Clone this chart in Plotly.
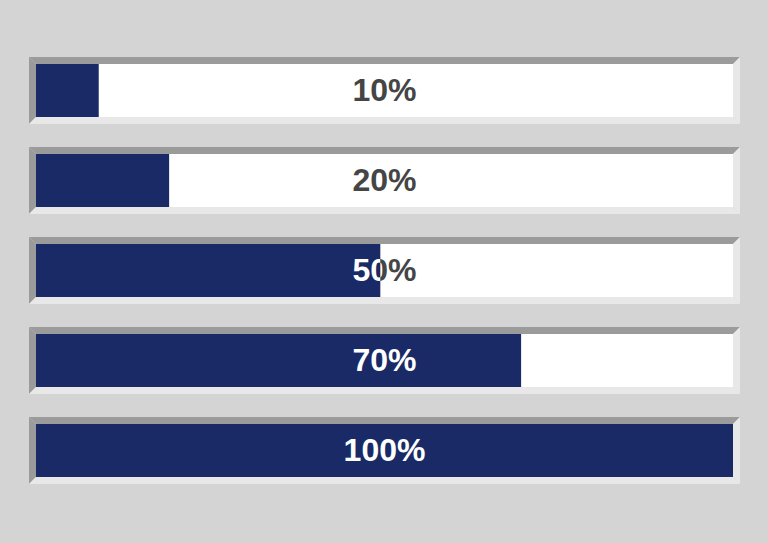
import plotly.graph_objects as go

# progress bars
percent_labels = [10, 20, 50, 70, 100]
fill_values = [9.0, 19.1, 49.4, 69.6, 100.0]
track_values = [100, 100, 100, 100, 100]

BG = "#d4d4d4"
BLUE = "#1a2a66"
DARK_EDGE = "#9b9b9b"
LIGHT_EDGE = "#e8e8e8"
TEXT_GRAY = "#454545"

W, H = 768, 543
FONT = dict(family="Liberation Sans, Arial, sans-serif", size=32, weight="bold")

# pixel layout -> axis ranges
x0_px, x100_px = 36, 733
px_per_x = (x100_px - x0_px) / 100.0
first_center_px, step_px = 90.5, 90.0
bar_h_px, bevel_px = 53, 7
text_drop_px = 2.5

x_range = [-x0_px / px_per_x, 100 + (W - x100_px) / px_per_x]
y_range = [len(percent_labels) - 1 + (H - first_center_px - step_px * (len(percent_labels) - 1)) / step_px,
           -first_center_px / step_px]

bar_width = bar_h_px / step_px
bx = bevel_px / px_per_x
by = bevel_px / step_px

rows = list(range(len(percent_labels)))


def to_frac(v):
    return (v - x_range[0]) / (x_range[1] - x_range[0])


fig = go.Figure()
fig.add_trace(go.Bar(
    x=track_values, y=rows, orientation="h", width=bar_width,
    marker=dict(color="white", line=dict(width=0)), hoverinfo="skip",
))
fig.add_trace(go.Bar(
    x=fill_values, y=rows, orientation="h", width=bar_width,
    marker=dict(color=BLUE, line=dict(width=0)), hoverinfo="skip",
))

# labels: one copy clipped to the blue part (white), one to the rest (gray)
axes = {}
n = 2
for i, (lab, fill) in enumerate(zip(percent_labels, fill_values)):
    for side in ("in", "out"):
        if side == "in":
            dom, rng, col = [0, to_frac(fill)], [x_range[0], fill], "white"
        else:
            dom, rng, col = [to_frac(fill), 1], [fill, x_range[1]], TEXT_GRAY
        if dom[1] - dom[0] < 1e-4:
            continue
        fig.add_trace(go.Scatter(
            x=[50], y=[i + text_drop_px / step_px], text=[f"{lab}%"], mode="text",
            textposition="middle center", cliponaxis=True,
            textfont=dict(color=col, **FONT), hoverinfo="skip",
            xaxis=f"x{n}", yaxis=f"y{n}",
        ))
        axes[f"xaxis{n}"] = dict(domain=dom, range=rng, anchor=f"y{n}",
                                 visible=False, fixedrange=True)
        axes[f"yaxis{n}"] = dict(domain=[0, 1], range=y_range, anchor=f"x{n}",
                                 visible=False, fixedrange=True)
        n += 1

# bevelled frame around each track
shapes = []
for i in rows:
    t = i - bar_width / 2
    b = i + bar_width / 2
    L, R = 0, 100
    sides = [
        (f"M {L-bx},{t-by} L {R+bx},{t-by} L {R},{t} L {L},{t} Z", DARK_EDGE),
        (f"M {L-bx},{t-by} L {L},{t} L {L},{b} L {L-bx},{b+by} Z", DARK_EDGE),
        (f"M {L-bx},{b+by} L {L},{b} L {R},{b} L {R+bx},{b+by} Z", LIGHT_EDGE),
        (f"M {R+bx},{t-by} L {R+bx},{b+by} L {R},{b} L {R},{t} Z", LIGHT_EDGE),
    ]
    for path, col in sides:
        shapes.append(dict(type="path", path=path, xref="x", yref="y",
                           fillcolor=col, line=dict(width=0), layer="above"))

fig.update_layout(
    width=W, height=H, margin=dict(l=0, r=0, t=0, b=0),
    paper_bgcolor=BG, plot_bgcolor="rgba(0,0,0,0)",
    barmode="overlay", showlegend=False, shapes=shapes,
    xaxis=dict(range=x_range, visible=False, fixedrange=True),
    yaxis=dict(range=y_range, visible=False, fixedrange=True),
    **axes,
)

# drop the page's default body margin so the figure sits at 0,0
fig.write_html(
    "out.html",
    config={"displayModeBar": False},
    post_script="document.body.style.margin='0';document.body.style.background='%s';" % BG,
)
